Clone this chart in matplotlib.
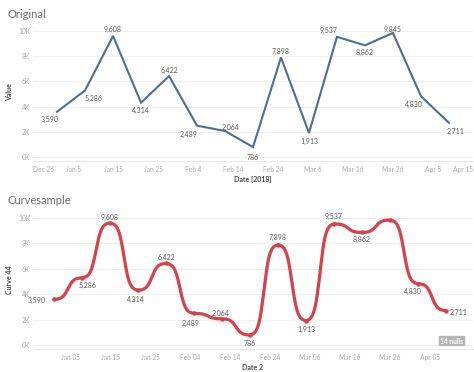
import numpy as np
import matplotlib
matplotlib.use("Agg")
import matplotlib.pyplot as plt
import matplotlib.dates as mdates
from matplotlib.ticker import FixedLocator, FuncFormatter
import datetime as dt

# ---- data ----
dates = ["2018-01-01", "2018-01-08", "2018-01-15", "2018-01-22", "2018-01-29",
         "2018-02-05", "2018-02-12", "2018-02-19", "2018-02-26", "2018-03-05",
         "2018-03-12", "2018-03-19", "2018-03-26", "2018-04-02", "2018-04-09"]
values = [3590, 5286, 9608, 4314, 6422, 2489, 2064, 786, 7898, 1913,
          9537, 8862, 9845, 4830, 2711]
top_title = "Original"
bottom_title = "Curvesample"
top_xlabel = "Date [2018]"
top_ylabel = "Value"
bottom_xlabel = "Date 2"
bottom_ylabel = "Curve 44"
nulls_text = "14 nulls"
y_ticks = [0, 2000, 4000, 6000, 8000, 10000]

# ---- styling ----
plt.rcParams['font.family'] = ['Lato', 'DejaVu Sans']
FIG_W, FIG_H = 474, 372
BLUE = "#4b6e95"
RED = "#d8404a"
GRID = "#ececec"
TICKC = "#a8a8a8"
LABC = "#555555"

x = np.array([mdates.date2num(dt.datetime.strptime(d, "%Y-%m-%d")) for d in dates])
y = np.array(values, dtype=float)

fig = plt.figure(figsize=(FIG_W / 100, FIG_H / 100), dpi=100)
fig.patch.set_facecolor("white")


def px_axes(left, top, right, bottom):
    return fig.add_axes([left / FIG_W, 1 - bottom / FIG_H,
                         (right - left) / FIG_W, (bottom - top) / FIG_H])


def style_axes(ax):
    for s in ["top", "right", "left"]:
        ax.spines[s].set_visible(False)
    ax.spines["bottom"].set_color("#e2e2e2")
    ax.spines["bottom"].set_linewidth(0.6)
    ax.yaxis.set_major_locator(FixedLocator(y_ticks))
    ax.yaxis.set_major_formatter(FuncFormatter(lambda v, p: f"{int(v/1000)}K"))
    ax.tick_params(axis="both", length=0, labelsize=4.8, labelcolor=TICKC)
    ax.tick_params(axis="y", pad=2)
    ax.tick_params(axis="x", pad=3.5)
    ax.grid(axis="y", color=GRID, linewidth=0.6)
    ax.set_axisbelow(True)


def k_fmt(v):
    return f"{v:,}"

# ---- top chart ----
ax1 = px_axes(33, 24, 473, 161)
style_axes(ax1)
ax1.plot(x, y, color=BLUE, linewidth=1.5, solid_joinstyle="miter", zorder=3)
ax1.set_xlim(mdates.date2num(dt.datetime(2017, 12, 26)) - 0.02,
             mdates.date2num(dt.datetime(2018, 4, 15)) + 0.02)
ax1.set_ylim(-317, 10556)
top_ticks = [dt.datetime(2017, 12, 26) + dt.timedelta(days=10 * i) for i in range(12)]
ax1.xaxis.set_major_locator(FixedLocator([mdates.date2num(t) for t in top_ticks]))
ax1.xaxis.set_major_formatter(FuncFormatter(
    lambda v, p: mdates.num2date(v).strftime("%b ") + str(mdates.num2date(v).day)))
fig.canvas.draw()
labels = ax1.get_xticklabels()
labels[0].set_horizontalalignment("left")
labels[-1].set_horizontalalignment("right")

top_offsets = [(-7, 8), (8, 8.5), (0, -6), (0, 8), (0, -6), (-8, 9), (5, -4), (0, 10),
               (0, -6), (0, 9), (-8, -6), (0, 7), (0, -3), (-7, 8), (7, 9)]
for xi, yi, v, (dx, dy) in zip(x, y, values, top_offsets):
    ax1.annotate(k_fmt(v), (xi, yi), xytext=(dx * 0.72, -dy * 0.72), textcoords="offset points",
                 ha="center", va="center", fontsize=5, color=LABC, zorder=4)

ax1.set_xlabel(top_xlabel, fontsize=5, color="#444444", fontweight="bold", labelpad=2)
ax1.set_ylabel(top_ylabel, fontsize=5, color="#444444", fontweight="bold")
ax1.yaxis.set_label_coords(-0.045, 0.5)
fig.text(8 / FIG_W, 1 - 15 / FIG_H, top_title, fontsize=8, color="#6a6a6a", va="center", ha="left")

# ---- bottom chart (sigmoid curve) ----
ax2 = px_axes(33, 210, 473, 349)
style_axes(ax2)
kk = 10.0
lo, hi = 1 / (1 + np.exp(kk / 2)), 1 / (1 + np.exp(-kk / 2))
cx, cy = [], []
for i in range(len(x) - 1):
    t = np.linspace(0, 1, 60, endpoint=False)
    s = (1 / (1 + np.exp(-kk * (t - 0.5))) - lo) / (hi - lo)
    cx.append(x[i] + t * (x[i + 1] - x[i]))
    cy.append(y[i] + s * (y[i + 1] - y[i]))
cx.append([x[-1]])
cy.append([y[-1]])
cx = np.concatenate(cx)
cy = np.concatenate(cy)
ax2.plot(cx, cy, color=RED, linewidth=2.3, solid_capstyle="round", zorder=3)
ax2.plot(x, y, "o", color=RED, markersize=2.2, zorder=3)
ax2.set_xlim(mdates.date2num(dt.datetime(2017, 12, 26, 18)), mdates.date2num(dt.datetime(2018, 4, 15, 18)))
ax2.set_ylim(-315, 10630)
bot_ticks = [dt.datetime(2018, 1, 5) + dt.timedelta(days=10 * i) for i in range(10)]
ax2.xaxis.set_major_locator(FixedLocator([mdates.date2num(t) for t in bot_ticks]))
ax2.xaxis.set_major_formatter(mdates.DateFormatter("%b %d"))

bot_offsets = [(-9, 1), (6, 8), (0, -6), (-2, 9), (0, -6), (-3, 10), (-2, -5), (0, 8),
               (0, -7), (0, 9), (0, -7), (0, 7), None, (-5, 8), (10, 2)]
for xi, yi, v, off in zip(x, y, values, bot_offsets):
    if off is None:
        continue
    dx, dy = off
    ha = "center"
    if dx <= -8:
        ha = "right"; dx = dx + 1
    elif dx >= 9:
        ha = "left"; dx = dx - 6
    ax2.annotate(k_fmt(v), (xi, yi), xytext=(dx * 0.72, -dy * 0.72), textcoords="offset points",
                 ha=ha, va="center", fontsize=5, color=LABC, zorder=4)

ax2.set_xlabel(bottom_xlabel, fontsize=5, color="#444444", fontweight="bold", labelpad=2)
ax2.set_ylabel(bottom_ylabel, fontsize=5, color="#444444", fontweight="bold")
ax2.yaxis.set_label_coords(-0.045, 0.5)
fig.text(8 / FIG_W, 1 - 201 / FIG_H, bottom_title, fontsize=8, color="#6a6a6a", va="center", ha="left")

fig.text(452 / FIG_W, 1 - 341 / FIG_H, nulls_text, fontsize=4.8, color="white", fontweight="bold",
         ha="center", va="center",
         bbox=dict(boxstyle="round,pad=0.25,rounding_size=0.15", facecolor="#b5b5b5", edgecolor="none"))

fig.savefig("out.png", dpi=100, facecolor="white")
